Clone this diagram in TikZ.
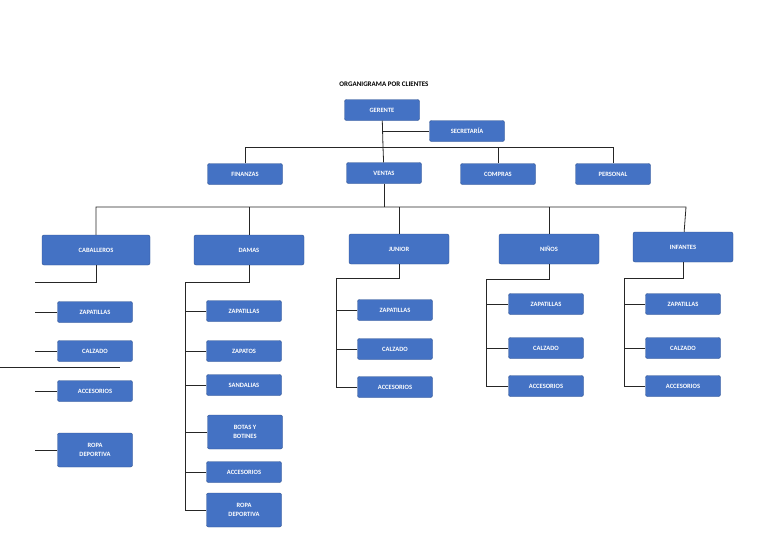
\documentclass[tikz,border=0pt]{standalone}
\usepackage{fontspec}
\setmainfont{Carlito}
\usetikzlibrary{positioning}
\definecolor{boxblue}{HTML}{4472C4}
\definecolor{boxedge}{HTML}{2F528F}
\begin{document}
\begin{tikzpicture}[x=1pt, y=-1pt,
    box/.style={rectangle, draw=boxedge, fill=boxblue, rounded corners=2pt, text=white, font=\fontsize{6.5}{9}\selectfont\bfseries, align=center, minimum width=75pt, minimum height=21pt, inner sep=1pt},
    big/.style={box, minimum width=108pt, minimum height=30pt},
    tall/.style={box, minimum height=34pt},
    line/.style={thick, black!85}]
    \useasboundingbox (0,0) rectangle (768,543);

    % Title and top level
    \node[font=\fontsize{7}{8}\selectfont\bfseries] (title) at (384,84) {ORGANIGRAMA POR CLIENTES};
    \node[box] (gerente) at (382,110) {GERENTE};
    \node[box] (secretaria) at (467,131) {SECRETARÍA};
    \node[box] (finanzas) at (245,174) {FINANZAS};
    \node[box] (ventas) at (384,173) {VENTAS};
    \node[box] (compras) at (498,174) {COMPRAS};
    \node[box] (personal) at (613,174) {PERSONAL};

    % Departments
    \node[big] (caballeros) at (96,250) {CABALLEROS};
    \node[big, minimum width=110pt] (damas) at (249,250) {DAMAS};
    \node[big, minimum width=100pt] (junior) at (399,249) {JUNIOR};
    \node[big, minimum width=100pt] (ninos) at (549,249) {NIÑOS};
    \node[big, minimum width=100pt] (infantes) at (683,247) {INFANTES};

    % Caballeros
    \node[box] (cab1) at (95,312) {ZAPATILLAS};
    \node[box] (cab2) at (95,351) {CALZADO};
    \node[box] (cab3) at (95,391) {ACCESORIOS};
    \node[tall] (cab4) at (95,450) {ROPA\\DEPORTIVA};

    % Damas
    \node[box] (dam1) at (244,311) {ZAPATILLAS};
    \node[box] (dam2) at (244,351) {ZAPATOS};
    \node[box] (dam3) at (244,385) {SANDALIAS};
    \node[tall] (dam4) at (245,432) {BOTAS Y\\BOTINES};
    \node[box] (dam5) at (244,472) {ACCESORIOS};
    \node[tall] (dam6) at (244,510) {ROPA\\DEPORTIVA};

    % Junior
    \node[box] (jun1) at (395,310) {ZAPATILLAS};
    \node[box] (jun2) at (395,349) {CALZADO};
    \node[box] (jun3) at (395,387) {ACCESORIOS};

    % Ninos
    \node[box] (nin1) at (546,304) {ZAPATILLAS};
    \node[box] (nin2) at (546,348) {CALZADO};
    \node[box] (nin3) at (546,386) {ACCESORIOS};

    % Infantes
    \node[box] (inf1) at (683,304) {ZAPATILLAS};
    \node[box] (inf2) at (683,348) {CALZADO};
    \node[box] (inf3) at (683,386) {ACCESORIOS};

    % Top connectors
    \coordinate (bar1) at (383,147);
    \draw[line] (gerente) -- (bar1);
    \draw[line] (gerente |- secretaria) -- (secretaria);
    \draw[line] (finanzas) -- (finanzas |- bar1) -- (personal |- bar1) -- (personal);
    \draw[line] (compras |- bar1) -- (compras);
    \draw[line] (bar1) -- (ventas);

    \coordinate (bar2) at (384,207);
    \draw[line] (ventas) -- (bar2);
    \draw[line] (caballeros) -- (caballeros |- bar2) -- (686,207) -- (infantes);
    \foreach \d in {damas, junior, ninos}
        \draw[line] (\d |- bar2) -- (\d);

    % Caballeros connectors
    \coordinate (cabL) at (35,282);
    \draw[line] (caballeros) -- (caballeros |- cabL) -- (cabL);
    \foreach \c in {cab1, cab2, cab3, cab4}
        \draw[line] (\c.west) -- (35,0 |- \c.west);
    \coordinate (stray) at (0,367);
    \draw[line] (stray) -- (120,367);

    % Damas connectors
    \coordinate (damL) at (185,282);
    \draw[line] (damas) -- (damas |- damL) -- (damL) -- (185,510);
    \foreach \c in {dam1, dam2, dam3, dam4, dam5, dam6}
        \draw[line] (\c.west) -- (185,0 |- \c.west);

    % Junior connectors
    \coordinate (junL) at (336,278);
    \draw[line] (junior) -- (junior |- junL) -- (junL) -- (336,387);
    \foreach \c in {jun1, jun2, jun3}
        \draw[line] (\c.west) -- (336,0 |- \c.west);

    % Ninos connectors
    \coordinate (ninL) at (486,279);
    \draw[line] (ninos) -- (ninos |- ninL) -- (ninL) -- (486,386);
    \foreach \c in {nin1, nin2, nin3}
        \draw[line] (\c.west) -- (486,0 |- \c.west);

    % Infantes connectors
    \coordinate (infL) at (624,278);
    \draw[line] (infantes) -- (infantes |- infL) -- (infL) -- (624,386);
    \foreach \c in {inf1, inf2, inf3}
        \draw[line] (\c.west) -- (624,0 |- \c.west);
\end{tikzpicture}
\end{document}
